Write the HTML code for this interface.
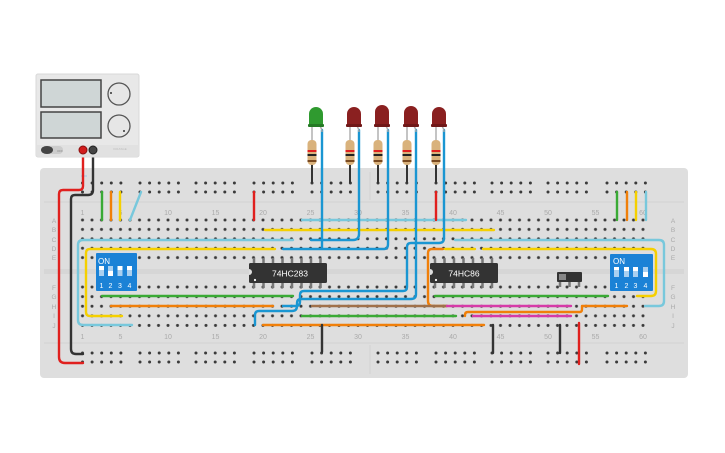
<!DOCTYPE html>
<html><head><meta charset="utf-8"><style>
html,body{margin:0;padding:0;background:#fff;width:725px;height:453px;overflow:hidden}
svg{display:block}
text{font-family:"Liberation Sans",sans-serif}
</style></head><body>
<svg width="725" height="453" viewBox="0 0 725 453" xmlns="http://www.w3.org/2000/svg">
<defs>
<pattern id="holes" patternUnits="userSpaceOnUse" x="77.75" y="215.3" width="9.5" height="9.4">
<circle cx="4.75" cy="4.7" r="1.5" fill="#3a3a3a"/></pattern>
<pattern id="holes2" patternUnits="userSpaceOnUse" x="77.75" y="282.3" width="9.5" height="9.6">
<circle cx="4.75" cy="4.7" r="1.5" fill="#3a3a3a"/></pattern>
<g id="rg"><circle cx="0" cy="0" r="1.5" fill="#3a3a3a"/><circle cx="9.6" cy="0" r="1.5" fill="#3a3a3a"/><circle cx="19.2" cy="0" r="1.5" fill="#3a3a3a"/><circle cx="28.8" cy="0" r="1.5" fill="#3a3a3a"/><circle cx="38.4" cy="0" r="1.5" fill="#3a3a3a"/>
<circle cx="0" cy="9" r="1.5" fill="#3a3a3a"/><circle cx="9.6" cy="9" r="1.5" fill="#3a3a3a"/><circle cx="19.2" cy="9" r="1.5" fill="#3a3a3a"/><circle cx="28.8" cy="9" r="1.5" fill="#3a3a3a"/><circle cx="38.4" cy="9" r="1.5" fill="#3a3a3a"/></g>
</defs>

<!-- breadboard -->
<rect x="40" y="168" width="648" height="210" rx="4" fill="#dedede"/>
<line x1="44" y1="202" x2="684" y2="202" stroke="#d2d2d2" stroke-width="1"/>
<line x1="44" y1="343" x2="684" y2="343" stroke="#d2d2d2" stroke-width="1"/>
<rect x="44" y="269" width="640" height="5" fill="#d6d6d6"/>
<line x1="370" y1="172" x2="370" y2="200" stroke="#d2d2d2"/>
<line x1="370" y1="345" x2="370" y2="374" stroke="#d2d2d2"/>
<rect x="77.75" y="215.3" width="570" height="47" fill="url(#holes)"/>
<rect x="77.75" y="282.3" width="570" height="48" fill="url(#holes2)"/>
<g>
<use href="#rg" x="82.5" y="183"/><use href="#rg" x="140" y="183"/><use href="#rg" x="196" y="183"/><use href="#rg" x="254" y="183"/><use href="#rg" x="312" y="183"/><use href="#rg" x="378" y="183"/><use href="#rg" x="436" y="183"/><use href="#rg" x="492" y="183"/><use href="#rg" x="548" y="183"/><use href="#rg" x="607" y="183"/>
<use href="#rg" x="82.5" y="353"/><use href="#rg" x="140" y="353"/><use href="#rg" x="196" y="353"/><use href="#rg" x="254" y="353"/><use href="#rg" x="312" y="353"/><use href="#rg" x="378" y="353"/><use href="#rg" x="436" y="353"/><use href="#rg" x="492" y="353"/><use href="#rg" x="548" y="353"/><use href="#rg" x="607" y="353"/>
</g>
<g font-size="7" fill="#aaa" text-anchor="middle">
<text x="82.5" y="215">1</text><text x="120.5" y="215">5</text><text x="168" y="215">10</text><text x="215.5" y="215">15</text><text x="263" y="215">20</text><text x="310.5" y="215">25</text><text x="358" y="215">30</text><text x="405.5" y="215">35</text><text x="453" y="215">40</text><text x="500.5" y="215">45</text><text x="548" y="215">50</text><text x="595.5" y="215">55</text><text x="643" y="215">60</text>
<text x="82.5" y="339">1</text><text x="120.5" y="339">5</text><text x="168" y="339">10</text><text x="215.5" y="339">15</text><text x="263" y="339">20</text><text x="310.5" y="339">25</text><text x="358" y="339">30</text><text x="405.5" y="339">35</text><text x="453" y="339">40</text><text x="500.5" y="339">45</text><text x="548" y="339">50</text><text x="595.5" y="339">55</text><text x="643" y="339">60</text>
</g>
<g font-size="6.5" fill="#aaa" text-anchor="middle">
<text x="54" y="223">A</text><text x="54" y="232">B</text><text x="54" y="242">C</text><text x="54" y="251">D</text><text x="54" y="260">E</text><text x="54" y="290">F</text><text x="54" y="299">G</text><text x="54" y="309">H</text><text x="54" y="318">I</text><text x="54" y="328">J</text>
<text x="673" y="223">A</text><text x="673" y="232">B</text><text x="673" y="242">C</text><text x="673" y="251">D</text><text x="673" y="260">E</text><text x="673" y="290">F</text><text x="673" y="299">G</text><text x="673" y="309">H</text><text x="673" y="318">I</text><text x="673" y="328">J</text>
</g>
<line x1="81" y1="176" x2="87" y2="176" stroke="#9cc8e6" stroke-width="1"/>

<!-- chips -->
<g fill="#888">
<g id="pins283"></g>
</g>
<g stroke="#777" stroke-width="2.5">
<path d="M254 258v5M263.5 258v5M273 258v5M282.5 258v5M292 258v5M301.5 258v5M311 258v5M320.5 258v5M254 283v5M263.5 283v5M273 283v5M282.5 283v5M292 283v5M301.5 283v5M311 283v5M320.5 283v5"/>
<path d="M435 258v5M444.5 258v5M454 258v5M463.5 258v5M473 258v5M482.5 258v5M492 258v5M435 283v5M444.5 283v5M454 283v5M463.5 283v5M473 283v5M482.5 283v5M492 283v5"/>
<path d="M560 282v5M569.5 282v5M579 282v5"/>
</g>
<rect x="249" y="263" width="78" height="20" rx="1.5" fill="#333"/>
<path d="M249 269a3 3 0 0 1 0 6z" fill="#dedede"/>
<circle cx="255" cy="280" r="1.1" fill="#fff"/>
<text x="290" y="276.5" font-family="Liberation Mono,monospace" font-size="8.5" fill="#fff" text-anchor="middle">74HC283</text>
<rect x="430" y="263" width="68" height="20" rx="1.5" fill="#333"/>
<path d="M430 269a3 3 0 0 1 0 6z" fill="#dedede"/>
<circle cx="436" cy="280" r="1.1" fill="#fff"/>
<text x="464" y="276.5" font-family="Liberation Mono,monospace" font-size="8.5" fill="#fff" text-anchor="middle">74HC86</text>
<rect x="557" y="272" width="25" height="10" rx="1" fill="#333"/>
<rect x="559" y="274" width="7" height="6" fill="#888"/>

<!-- dip switches -->
<g>
<rect x="96" y="253" width="41" height="38" rx="1" fill="#1b82d6"/>
<text x="98" y="264" font-size="8" fill="#fff">ON</text>
<rect x="99" y="266" width="5" height="10" fill="#fff"/><rect x="99" y="270" width="5" height="6" fill="#aad0f0"/>
<rect x="108" y="266" width="5" height="10" fill="#fff"/><rect x="108" y="266" width="5" height="5" fill="#aad0f0"/>
<rect x="117.5" y="266" width="5" height="10" fill="#fff"/><rect x="117.5" y="270" width="5" height="6" fill="#aad0f0"/>
<rect x="127" y="266" width="5" height="10" fill="#fff"/><rect x="127" y="270" width="5" height="6" fill="#aad0f0"/>
<g font-size="7" fill="#fff" text-anchor="middle"><text x="101.5" y="288">1</text><text x="110.5" y="288">2</text><text x="120" y="288">3</text><text x="129.5" y="288">4</text></g>
</g>
<g>
<rect x="610" y="254" width="43" height="37" rx="1" fill="#1b82d6"/>
<text x="613" y="264" font-size="8" fill="#fff">ON</text>
<rect x="614" y="267" width="5" height="10" fill="#fff"/><rect x="614" y="270" width="5" height="7" fill="#aad0f0"/>
<rect x="624" y="267" width="5" height="10" fill="#fff"/><rect x="624" y="271" width="5" height="6" fill="#aad0f0"/>
<rect x="633" y="267" width="5" height="10" fill="#fff"/><rect x="633" y="271" width="5" height="6" fill="#aad0f0"/>
<rect x="643" y="267" width="5" height="10" fill="#fff"/><rect x="643" y="267" width="5" height="5" fill="#aad0f0"/>
<g font-size="7" fill="#fff" text-anchor="middle"><text x="616.5" y="288">1</text><text x="626.5" y="288">2</text><text x="635.5" y="288">3</text><text x="645.5" y="288">4</text></g>
</g>

<!-- wires -->
<g fill="none" stroke-width="2.4" stroke-linecap="round" stroke-linejoin="round">
<path stroke="#3aaa35" d="M102 192V220M617 192V220M102 296H293M435 296H608M302 316H456"/>
<path stroke="#f07f09" d="M111 192V220M627 192V220M111 306H273M263 325H484M443 249H432Q428 249 428 253V301Q428 306 433 306H447M465 316V315Q465 312 468 312H580Q582 312 582 309V306H627"/>
<path stroke="#f5d000" d="M120 192V220M636 192V220M265 230H494M275 249H90Q86 249 86 253V312Q86 316 90 316H122M445 249H475M483 249H651Q656 249 656 254V291Q656 296 651 296H637"/>
<path stroke="#78c8dc" d="M141 192L130 220M646 192V220M302 220H466M293 240H83Q78 240 78 245V320Q78 325 83 325H132M455 240H659Q664 240 664 245V301Q664 306 659 306H645"/>
<path stroke="#a0714a" d="M312 306H447"/>
<path stroke="#d63aa8" d="M447 306H571M473 316H571"/>
<path stroke="#e0201e" d="M254 192V220M436 192V220M579 323V364"/>
<path stroke="#333" d="M322 325V352M493 325V353M560 325V353"/>
<!-- power -->
<path stroke="#e0201e" d="M83 150V186Q83 190 79 190H63Q59 190 59 194V357Q59 363 65 363H83"/>
<path stroke="#333" d="M93 150V190Q93 195 88 195H75Q71 195 71 199V349Q71 354 76 354H83"/>
<!-- blue LED wires -->
<path stroke="#1a96d2" d="M322 130V249M283 249H384Q388 249 388 244V130M359 130V234Q359 240 353 240H311M444 130V238Q444 243 439 243H411Q407 243 407 247V287Q407 291 403 291H304Q300 291 300 295V302Q300 306 296 306H283M416 130V294Q416 299 411 299H301Q297 299 297 303V306Q297 311 292 311H259Q255 311 255 315V325"/>
</g>

<!-- resistors & LEDs -->
<g>
<g stroke="#aaa" stroke-width="1.4" fill="none">
<path d="M312 125V140M350 125V140M378 125V140M407 125V140M436 125V140"/>
<path d="M319 125Q322 128 322 132M356 125Q359 128 359 132M385 125Q388 128 388 132M413 125Q416 128 416 132M441 125Q444 128 444 132"/>
</g>
<g stroke="#333" stroke-width="2"><path d="M312 164V183M350 164V183M378 164V183M407 164V183M436 164V183"/></g>
<g id="res">
<rect x="307.5" y="140" width="9" height="25" rx="4" fill="#d9b27c"/>
<rect x="307.5" y="150" width="9" height="2" fill="#e0201e"/>
<rect x="307.5" y="154" width="9" height="2" fill="#222"/>
<rect x="307.5" y="160" width="9" height="2" fill="#7a4a20"/>
</g>
<use href="#res" x="38"/><use href="#res" x="66"/><use href="#res" x="95"/><use href="#res" x="124"/>
<path d="M309 126V114a7 7 0 0 1 14 0V126z" fill="#2f9a2f"/><rect x="308" y="124" width="16" height="3" rx="1" fill="#257a25"/>
<path d="M347 126V114a7 7 0 0 1 14 0V126z" fill="#8a2020"/><rect x="346" y="124" width="16" height="3" rx="1" fill="#701818"/>
<path d="M375 126V112a7 7 0 0 1 14 0V126z" fill="#8a2020"/><rect x="374" y="124" width="16" height="3" rx="1" fill="#701818"/>
<path d="M404 126V113a7 7 0 0 1 14 0V126z" fill="#8a2020"/><rect x="403" y="124" width="16" height="3" rx="1" fill="#701818"/>
<path d="M432 126V114a7 7 0 0 1 14 0V126z" fill="#8a2020"/><rect x="431" y="124" width="16" height="3" rx="1" fill="#701818"/>
</g>

<!-- power supply -->
<g>
<rect x="36" y="74" width="103" height="83" rx="2" fill="#e8e8e8" stroke="#d8d8d8"/>
<rect x="37" y="145" width="101" height="11" fill="#e1e1e1"/>
<rect x="41" y="80" width="60" height="27" fill="#cfd6d6" stroke="#444" stroke-width="1.5"/>
<rect x="41" y="112" width="60" height="26" fill="#cfd6d6" stroke="#444" stroke-width="1.5"/>
<circle cx="119" cy="94" r="11" fill="#e6e6e6" stroke="#555" stroke-width="1.3"/>
<circle cx="119" cy="126" r="11" fill="#e6e6e6" stroke="#555" stroke-width="1.3"/>
<circle cx="111" cy="93" r="1" fill="#333"/><circle cx="124" cy="131" r="1" fill="#333"/>
<rect x="42" y="146" width="21" height="8" rx="4" fill="#ccc"/>
<ellipse cx="47" cy="150" rx="6" ry="4" fill="#444"/>
<text x="57" y="152" font-size="3" fill="#888">OFF</text>
<circle cx="83" cy="150" r="4" fill="#d21d1d" stroke="#8a1010"/>
<circle cx="93" cy="150" r="4" fill="#444" stroke="#222"/>
<text x="113" y="150" font-size="3" fill="#bbb">VOLTAGE</text>
</g>
</svg>
</body></html>
